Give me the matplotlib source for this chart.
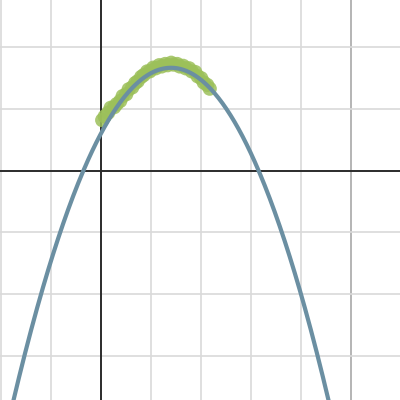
import matplotlib
matplotlib.use('Agg')
import matplotlib.pyplot as plt
import numpy as np

## Data points (x, y)
pts_x = [0.03, 0.08, 0.15, 0.20, 0.27, 0.32, 0.39, 0.44, 0.51, 0.56,
         0.63, 0.69, 0.74, 0.81, 0.86, 0.93, 0.98, 1.05, 1.10, 1.17,
         1.22, 1.29, 1.34, 1.41, 1.46, 1.53, 1.58, 1.65, 1.70, 1.77,
         1.82, 1.89, 1.94, 2.01, 2.06, 2.13, 2.18]
pts_y = [0.82, 0.88, 0.94, 1.02, 1.03, 1.08, 1.13, 1.21, 1.24, 1.32,
         1.35, 1.42, 1.45, 1.52, 1.55, 1.61, 1.61, 1.67, 1.66, 1.71,
         1.69, 1.73, 1.71, 1.75, 1.72, 1.73, 1.69, 1.70, 1.66, 1.66,
         1.61, 1.60, 1.53, 1.50, 1.43, 1.39, 1.33]

## Quadratic fit coefficients (highest power first)
fit_coef = [-0.543, 1.527, 0.595]

xmin, xmax = -2.014, 5.986
ymin, ymax = -3.716, 2.767

fig = plt.figure(figsize=(4, 4), dpi=100)
ax = fig.add_axes([0, 0, 1, 1])

# grid
for gx in range(-2, 6):
    if gx == 0:
        continue
    c = '#a8a8a8' if gx % 5 == 0 else '#d9d9d9'
    ax.axvline(gx, color=c, lw=1.2, zorder=0)
for gy in range(-3, 3):
    if gy == 0:
        continue
    ax.axhline(gy, color='#d9d9d9', lw=1.2, zorder=0)
ax.axvline(0, color='#2b2b2b', lw=1.4, zorder=1)
ax.axhline(0, color='#2b2b2b', lw=1.4, zorder=1)

ax.scatter(pts_x, pts_y, s=105, color='#9cc05a', alpha=0.85,
           edgecolors='none', zorder=2)

xs = np.linspace(xmin, xmax, 400)
ax.plot(xs, np.polyval(fit_coef, xs), color='#6b8fa2', lw=3.0,
        solid_capstyle='round', zorder=3)

ax.set_xlim(xmin, xmax)
ax.set_ylim(ymin, ymax)
ax.set_xticks([])
ax.set_yticks([])
for s in ax.spines.values():
    s.set_visible(False)

plt.savefig('out.png', dpi=100)
